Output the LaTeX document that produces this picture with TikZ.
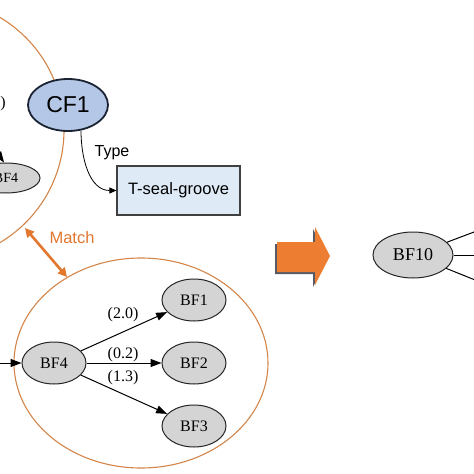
\documentclass[tikz,border=0pt]{standalone}
\usepackage{fontspec}
\setmainfont{Liberation Serif}
\newfontfamily\sansf{Liberation Sans}
\usetikzlibrary{shapes.geometric,arrows.meta}
\definecolor{orline}{HTML}{D4864A}
\definecolor{ormatch}{HTML}{E2772E}
\definecolor{orbig}{HTML}{ED7D31}
\definecolor{shadowc}{HTML}{555A66}
\definecolor{cfblue}{HTML}{B4C7E7}
\definecolor{cfdark}{HTML}{1C2433}
\definecolor{boxblue}{HTML}{DEEAF6}
\definecolor{bfgray}{HTML}{D4D4D4}
\tikzset{
  bfnode/.style={ellipse, draw=black!85, line width=1pt, fill=bfgray, inner sep=0pt,
    minimum width=64pt, minimum height=42pt, font=\fontsize{16}{18}\selectfont},
  cfnode/.style={ellipse, draw=cfdark, line width=1.8pt, fill=cfblue, inner sep=0pt,
    minimum width=80pt, minimum height=52pt, font=\sansf\fontsize{23}{25}\selectfont},
  typebox/.style={rectangle, draw=black!75, line width=1.2pt, fill=boxblue, inner sep=0pt,
    minimum width=123pt, minimum height=49pt, font=\sansf\fontsize{16.5}{18}\selectfont},
  edgearrow/.style={line width=1pt, -{Triangle[length=11pt,width=8pt]}},
  edgelabel/.style={font=\fontsize{16}{18}\selectfont, inner sep=0pt},
  groupring/.style={draw=orline, line width=1.1pt},
  sanslabel/.style={font=\sansf\fontsize{16}{18}\selectfont, inner sep=0pt}
}
\begin{document}
\begin{tikzpicture}[x=1pt,y=-1pt]
\useasboundingbox (0,0) rectangle (474,474);
\clip (0,0) rectangle (474,474);
\fill[white] (0,0) rectangle (474,474);

% orange group outlines
\draw[groupring] (-67,130) circle[radius=131];
\draw[groupring] (141,363) ellipse[x radius=127, y radius=105];

% Match double arrow
\coordinate (m1) at (25,228);
\coordinate (m2) at (67,277);
\draw[ormatch, line width=2.6pt, {Triangle[length=9pt,width=9pt]}-{Triangle[length=9pt,width=9pt]}] (m1) -- (m2);
\node[sanslabel, text=ormatch, font=\sansf\fontsize{16.5}{18}\selectfont] (match) at (72,238) {Match};

% top-left partial graph
\node[bfnode, minimum width=68pt, minimum height=30pt, font=\fontsize{14}{16}\selectfont] (sbf4) at (6,178) {BF4};
\coordinate (sin) at (-22,126);
\draw[edgearrow] (sin) -- (sbf4.97);
\node[edgelabel, anchor=east] (tl) at (6,104) {(2.0)};

% CF1 and type box
\node[cfnode] (cf1) at (68,105) {CF1};
\node[typebox] (tbox) at (178.5,190.5) {T-seal-groove};
\draw[line width=0.8pt, -{Triangle[length=7pt,width=6pt]}] (cf1.-63) to[out=-90,in=180] (tbox.west);
\node[sanslabel] (typel) at (112,153) {Type};

% bottom graph
\node[bfnode] (bf4) at (54,363) {BF4};
\node[bfnode] (bf1) at (194,300) {BF1};
\node[bfnode] (bf2) at (194,363) {BF2};
\node[bfnode] (bf3) at (194,426) {BF3};
\coordinate (bin) at (-20,363);
\draw[edgearrow] (bin) -- (bf4);
\draw[edgearrow] (bf4) -- (bf1);
\draw[edgearrow] (bf4) -- (bf2);
\draw[edgearrow] (bf4) -- (bf3);
\node[edgelabel] (l1) at (123,315) {(2.0)};
\node[edgelabel] (l2) at (123,355) {(0.2)};
\node[edgelabel] (l3) at (123,378) {(1.3)};

% big arrow with shadow
\fill[shadowc] (275,244) -- (313,244) -- (313,229) -- (328,258) -- (313,287) -- (313,274) -- (275,274) -- cycle;
\fill[orbig] (277,242) -- (315,242) -- (315,227) -- (330,256) -- (315,285) -- (315,272) -- (277,272) -- cycle;

% right partial graph
\node[bfnode, minimum width=80pt, minimum height=46pt, font=\fontsize{18}{20}\selectfont] (bf10) at (413,255) {BF10};
\coordinate (r1) at (490,226);
\coordinate (r2) at (490,255);
\coordinate (r3) at (490,286);
\draw[line width=1pt] (bf10) -- (r1);
\draw[line width=1pt] (bf10) -- (r2);
\draw[line width=1pt] (bf10) -- (r3);
\end{tikzpicture}
\end{document}
